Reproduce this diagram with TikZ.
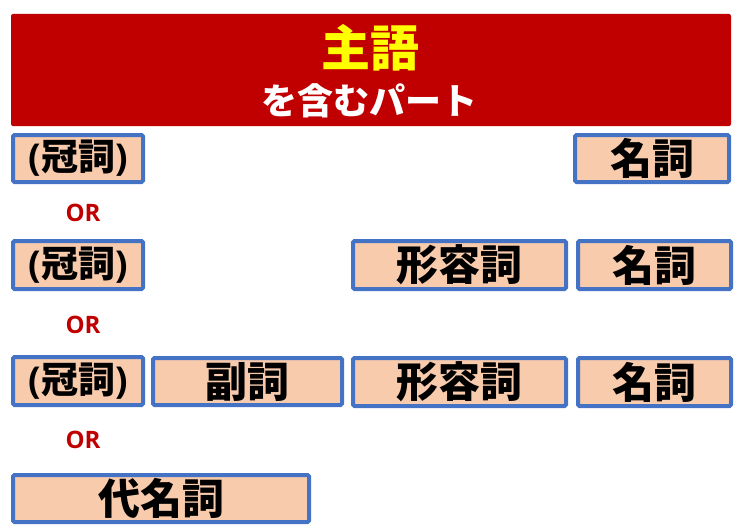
\documentclass[tikz,border=0pt]{standalone}
\usepackage{fontspec}
\newfontfamily\jp{Noto Sans CJK JP}
\newfontfamily\orfont{Open Sans}
\definecolor{hdrred}{HTML}{C00000}
\definecolor{hdryellow}{HTML}{FFFF00}
\definecolor{boxblue}{HTML}{4472C4}
\definecolor{boxfill}{HTML}{F8CBAD}
\newcommand\wordbox[6]{\node[wbox,minimum width={#3-#1-4},minimum height={#4-#2-4}] (#5) at ({(#1+#3)/2},{(#2+#4)/2}) {#6};}
\newcommand\artword{\fontsize{37}{37}\selectfont{\orfont\bfseries (}冠詞{\orfont\bfseries )}}
\begin{document}
\begin{tikzpicture}[x=1pt,y=-1pt,
  wbox/.style={draw=boxblue,line width=4pt,fill=boxfill,rounded corners=1.5pt,inner sep=0pt,
    font=\jp\bfseries\fontsize{42}{42}\selectfont,text=black},
  hdr/.style={fill=hdrred,rounded corners=2pt,inner sep=0pt},
  ortext/.style={font=\orfont\bfseries\fontsize{24}{24}\selectfont,text=hdrred,inner sep=0pt}]
\useasboundingbox (0,0) rectangle (735,527);
\node[hdr,minimum width=720,minimum height=112] (header) at (371,70) {};
\node[font=\jp\bfseries\fontsize{49}{49}\selectfont,text=hdryellow,inner sep=0pt] (subj) at (370,48) {主語};
\node[font=\jp\bfseries\fontsize{36}{36}\selectfont,text=white,inner sep=0pt] (part) at (369,101) {を含むパート};
% row 1
\wordbox{11}{133}{145}{184}{a1}{\artword}
\wordbox{573}{133}{731}{184}{n1}{名詞}
\node[ortext] (or1) at (83,213) {OR};
% row 2
\wordbox{11}{239}{145}{291}{a2}{\artword}
\wordbox{351}{239}{568}{291}{j2}{形容詞}
\wordbox{576}{239}{733}{291}{n2}{名詞}
\node[ortext] (or2) at (83,325) {OR};
% row 3
\wordbox{11}{355}{145}{407}{a3}{\artword}
\wordbox{151}{356}{344}{407}{d3}{副詞}
\wordbox{351}{356}{568}{408}{j3}{形容詞}
\wordbox{576}{356}{733}{408}{n3}{名詞}
\node[ortext] (or3) at (83,440) {OR};
% row 4
\wordbox{11}{473}{311}{524}{p4}{代名詞}
\end{tikzpicture}
\end{document}
